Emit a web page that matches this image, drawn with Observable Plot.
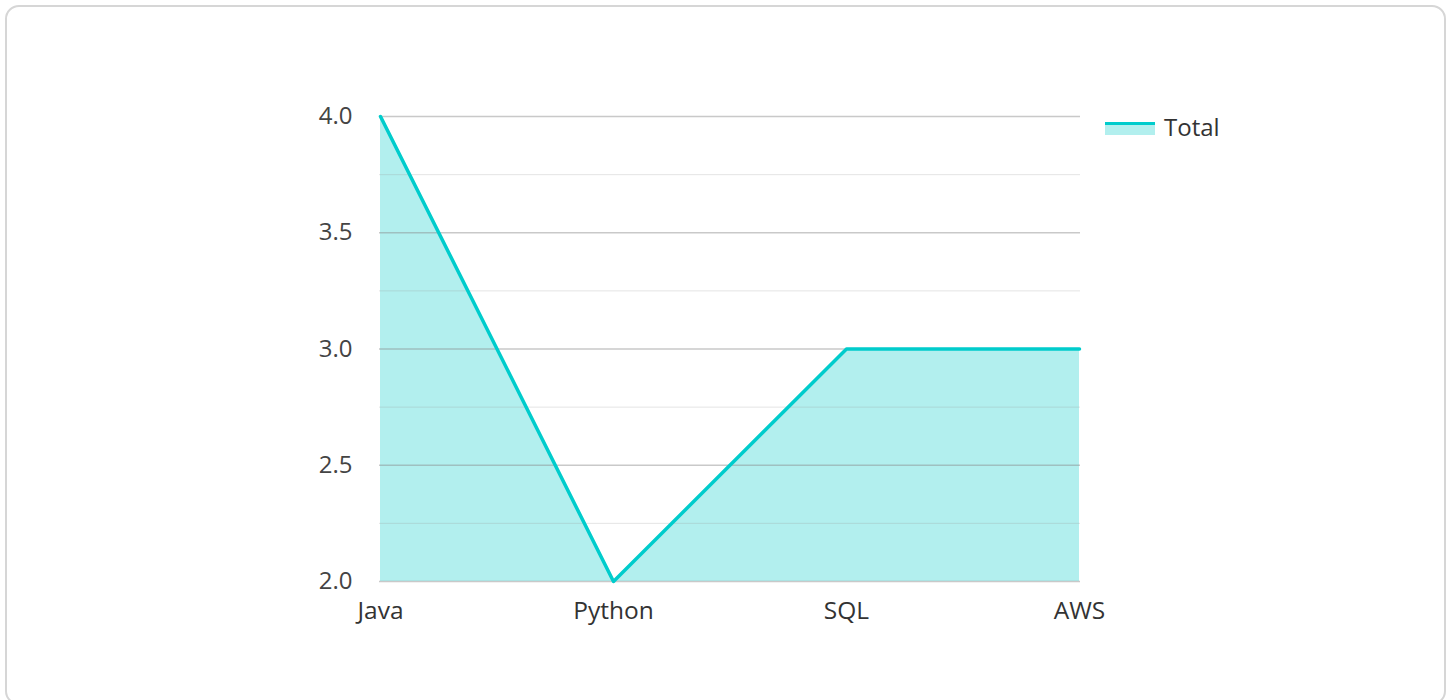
<!DOCTYPE html>
<html>
<head>
<meta charset="utf-8">
<script src="https://cdn.jsdelivr.net/npm/d3@7"></script>
<script src="https://cdn.jsdelivr.net/npm/@observablehq/plot@0.6"></script>
<style>
  html, body { margin: 0; padding: 0; background: #fff; overflow: hidden; }
  #wrap { position: relative; width: 1455px; height: 700px; font-family: "Open Sans", sans-serif; }
  #card { position: absolute; left: 5px; top: 5px; width: 1441px; height: 700px; border: 2px solid #d6d6d6; border-radius: 14px; box-sizing: border-box; }
  #chart { position: absolute; left: 0; top: 0; }
  #legend { position: absolute; left: 1105px; top: 112px; display: flex; align-items: center; }
  #legend .sw { width: 50px; height: 15px; position: relative; }
  #legend .sw .fill { position: absolute; left: 0; top: 5px; width: 50px; height: 10px; background: #b2efee; }
  #legend .sw .ln { position: absolute; left: 0; top: 2px; width: 50px; height: 3.5px; background: #00cccc; }
  #legend .lbl { margin-left: 9px; font-size: 24px; color: #333; line-height: 30px; }
</style>
</head>
<body>
<div id="wrap">
  <div id="card"></div>
  <div id="chart"></div>
  <div id="legend"><div class="sw"><div class="fill"></div><div class="ln"></div></div><div class="lbl">Total</div></div>
</div>
<script>
const categories = ["Java", "Python", "SQL", "AWS"];
const totals = [4, 2, 3, 3];
const yMajorTicks = [2.0, 2.5, 3.0, 3.5, 4.0];
const yMinorTicks = [2.25, 2.75, 3.25, 3.75];

const data = categories.map((c, i) => ({category: c, total: totals[i]}));

const chart = Plot.plot({
  width: 1455,
  height: 700,
  marginLeft: 379,
  marginRight: 375,
  marginTop: 116,
  marginBottom: 119,
  style: {fontFamily: "Open Sans, sans-serif", fontSize: "24px", color: "#444", background: "transparent", overflow: "visible"},
  x: {type: "point", domain: categories, padding: 0, label: null},
  y: {domain: [2, 4], label: null},
  marks: [
    Plot.areaY(data, {x: "category", y1: 2, y2: "total", fill: "#b2efee"}),
    Plot.ruleY(yMinorTicks, {stroke: "#999", strokeOpacity: 0.25, strokeWidth: 1}),
    Plot.ruleY(yMajorTicks, {stroke: "#888", strokeOpacity: 0.45, strokeWidth: 1.5}),
    Plot.lineY(data, {x: "category", y: "total", stroke: "#00cccc", strokeWidth: 3.5}),
    Plot.axisY({ticks: yMajorTicks, tickFormat: d => d.toFixed(1), tickSize: 0, tickPadding: 27, fontSize: 24, fill: "#444"}),
    Plot.axisX({tickSize: 0, tickPadding: 20, fontSize: 24.5, fill: "#333"})
  ]
});
document.getElementById("chart").appendChild(chart);
</script>
</body>
</html>
